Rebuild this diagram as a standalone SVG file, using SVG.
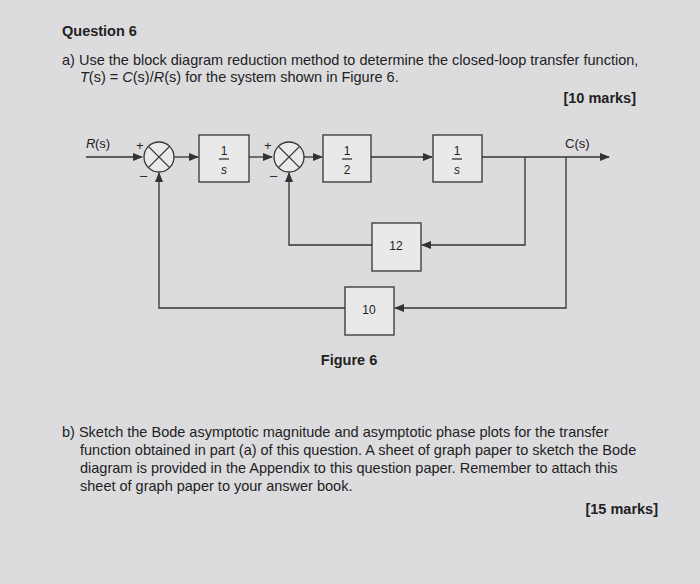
<svg xmlns="http://www.w3.org/2000/svg" width="700" height="584" viewBox="0 0 700 584">
<defs>
<marker id="ah" markerWidth="10" markerHeight="8" refX="9" refY="4" orient="auto" markerUnits="userSpaceOnUse"><path d="M0,0 L10,4 L0,8 z" fill="#333"/></marker>
<style>
text{font-family:"Liberation Sans",Arial,sans-serif;fill:#222}
.t{font-size:14.5px}
.b{fill:#e9e9ea;stroke:#333;stroke-width:1.3}
.l{fill:none;stroke:#333;stroke-width:1.3}
.n{font-size:12px;text-anchor:middle}
</style>
</defs>
<rect width="700" height="584" fill="#dcdcdf"/>
<text x="62" y="36" class="t" font-weight="bold">Question 6</text>
<text x="62" y="65" class="t">a) Use the block diagram reduction method to determine the closed-loop transfer function,</text>
<text x="80" y="82" class="t"><tspan font-style="italic">T</tspan>(s) = <tspan font-style="italic">C</tspan>(s)/<tspan font-style="italic">R</tspan>(s) for the system shown in Figure 6.</text>
<text x="636" y="103" class="t" font-weight="bold" text-anchor="end">[10 marks]</text>
<g id="connectors">
<path class="l" d="M86,157 H142" marker-end="url(#ah)"/>
<path class="l" d="M174,157 H198" marker-end="url(#ah)"/>
<path class="l" d="M249,157 H272" marker-end="url(#ah)"/>
<path class="l" d="M304,157 H322" marker-end="url(#ah)"/>
<path class="l" d="M371,157 H432" marker-end="url(#ah)"/>
<path class="l" d="M482,157 H609" marker-end="url(#ah)"/>
<path class="l" d="M525,157 V245 H422" marker-end="url(#ah)"/>
<path class="l" d="M372,245 H289 V173" marker-end="url(#ah)"/>
<path class="l" d="M566,157 V308 H395" marker-end="url(#ah)"/>
<path class="l" d="M345,308 H159 V173" marker-end="url(#ah)"/>
</g>
<g id="sum1"><circle class="b" cx="159" cy="157" r="15"/><path class="l" d="M148.4,146.4 L169.6,167.6 M169.6,146.4 L148.4,167.6"/><text x="136" y="150" font-size="13">+</text><text x="140" y="180" font-size="13">–</text></g>
<g id="sum2"><circle class="b" cx="289" cy="157" r="15"/><path class="l" d="M278.4,146.4 L299.6,167.6 M299.6,146.4 L278.4,167.6"/><text x="264" y="150" font-size="13">+</text><text x="270" y="180" font-size="13">–</text></g>
<g id="b1"><rect class="b" x="199" y="135" width="50" height="47"/><text class="n" x="224" y="155">1</text><line class="l" x1="219" y1="159" x2="229" y2="159"/><text class="n" x="224" y="174" font-style="italic">s</text></g>
<g id="b2"><rect class="b" x="323" y="135" width="48" height="47"/><text class="n" x="347" y="155">1</text><line class="l" x1="342" y1="159" x2="352" y2="159"/><text class="n" x="347" y="174">2</text></g>
<g id="b3"><rect class="b" x="433" y="135" width="49" height="47"/><text class="n" x="457" y="155">1</text><line class="l" x1="452" y1="159" x2="462" y2="159"/><text class="n" x="457" y="174" font-style="italic">s</text></g>
<g id="b12"><rect class="b" x="372" y="223" width="49" height="48"/><text class="n" x="396" y="250">12</text></g>
<g id="b10"><rect class="b" x="345" y="287" width="49" height="48"/><text class="n" x="369" y="314">10</text></g>
<text x="86" y="148" font-size="13" font-style="italic">R</text><text x="95" y="148" font-size="13">(s)</text>
<text x="565" y="148" font-size="13">C(s)</text>
<text x="349" y="365" class="t" font-weight="bold" text-anchor="middle">Figure 6</text>
<text x="62" y="437" class="t">b) Sketch the Bode asymptotic magnitude and asymptotic phase plots for the transfer</text>
<text x="80" y="455" class="t">function obtained in part (a) of this question. A sheet of graph paper to sketch the Bode</text>
<text x="80" y="473" class="t">diagram is provided in the Appendix to this question paper. Remember to attach this</text>
<text x="80" y="491" class="t">sheet of graph paper to your answer book.</text>
<text x="658" y="514" class="t" font-weight="bold" text-anchor="end">[15 marks]</text>
</svg>
